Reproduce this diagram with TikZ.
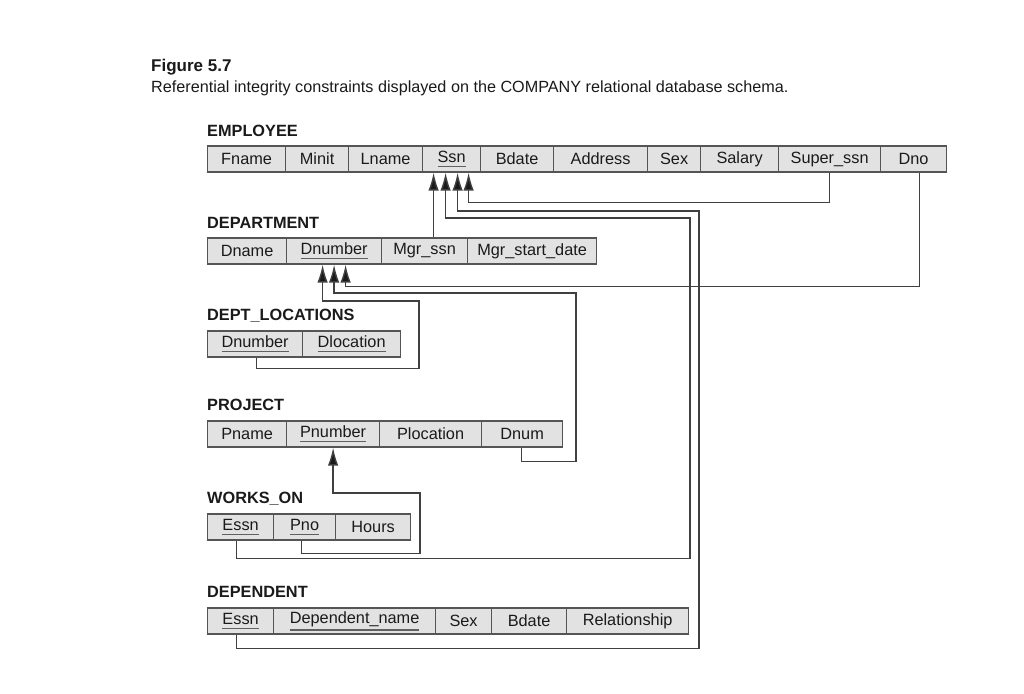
\documentclass[tikz,border=0pt]{standalone}
\usepackage{fontspec}
\setmainfont{Liberation Sans}
\usetikzlibrary{arrows.meta}
\definecolor{cellfill}{HTML}{E2E2E2}
\definecolor{celldraw}{HTML}{555555}
\definecolor{linec}{HTML}{404040}
\definecolor{txt}{HTML}{1A1A1A}
\definecolor{ulc}{HTML}{606060}
\newcommand\keyu[1]{\setbox0\hbox{#1}\vtop{\copy0\kern3pt{\color{ulc}\hrule width\wd0 height 1.3pt}}}
\begin{document}
\begin{tikzpicture}[x=1pt,y=-1pt,
  cell/.style={draw=celldraw,fill=cellfill,line width=1.2pt,minimum height=26pt,inner sep=0pt,anchor=west,text=txt,font=\fontsize{16.3}{19}\selectfont},
  reltitle/.style={anchor=base west,inner sep=0pt,text=txt,font=\fontsize{16.3}{19}\selectfont\bfseries},
  fk/.style={draw=linec,line width=1.4pt},
  arr/.style={fk,-{Latex[length=18pt,width=10.5pt,fill=txt]}}]
\useasboundingbox (0,0) rectangle (1024,693);
% heading
\node[anchor=base west,inner sep=0pt,text=txt,font=\fontsize{17}{20}\selectfont\bfseries] (fig) at (151,71) {Figure 5.7};
\node[anchor=base west,inner sep=0pt,text=txt,font=\fontsize{16.2}{19}\selectfont] (cap) at (151,92) {Referential integrity constraints displayed on the COMPANY relational database schema.};
% EMPLOYEE
\node[reltitle] (temp) at (207,136) {EMPLOYEE};
\node[cell,minimum width=78pt] (fname) at (207,159) {Fname};
\node[cell,minimum width=63pt] (minit) at (285,159) {Minit};
\node[cell,minimum width=74pt] (lname) at (348,159) {Lname};
\node[cell,minimum width=58pt] (ssn) at (422,159) {\keyu{Ssn}};
\node[cell,minimum width=73pt] (bdate) at (480,159) {Bdate};
\node[cell,minimum width=94pt] (address) at (553,159) {Address};
\node[cell,minimum width=53pt] (sex) at (647,159) {Sex};
\node[cell,minimum width=78pt] (salary) at (700,159) {Salary};
\node[cell,minimum width=102pt] (superssn) at (778,159) {Super\_ssn};
\node[cell,minimum width=66pt] (dno) at (880,159) {Dno};
% DEPARTMENT
\node[reltitle] (tdep) at (207,228) {DEPARTMENT};
\node[cell,minimum width=79pt] (dname) at (207,251) {Dname};
\node[cell,minimum width=95pt] (dnumber) at (286,251) {\keyu{Dnumber}};
\node[cell,minimum width=86pt] (mgrssn) at (381,251) {Mgr\_ssn};
\node[cell,minimum width=129pt] (mgrdate) at (467,251) {Mgr\_start\_date};
% DEPT_LOCATIONS
\node[reltitle] (tdl) at (207,320) {DEPT\_LOCATIONS};
\node[cell,minimum width=95pt] (dldnumber) at (207,344) {\keyu{Dnumber}};
\node[cell,minimum width=98pt] (dlloc) at (302,344) {\keyu{Dlocation}};
% PROJECT
\node[reltitle] (tproj) at (207,410) {PROJECT};
\node[cell,minimum width=79pt] (pname) at (207,434) {Pname};
\node[cell,minimum width=93pt] (pnumber) at (286,434) {\keyu{Pnumber}};
\node[cell,minimum width=102pt] (ploc) at (379,434) {Plocation};
\node[cell,minimum width=81pt] (dnum) at (481,434) {Dnum};
% WORKS_ON
\node[reltitle] (two) at (207,503) {WORKS\_ON};
\node[cell,minimum width=66pt] (woessn) at (207,527) {\keyu{Essn}};
\node[cell,minimum width=62pt] (pno) at (273,527) {\keyu{Pno}};
\node[cell,minimum width=75pt] (hours) at (335,527) {Hours};
% DEPENDENT
\node[reltitle] (tdpt) at (207,597) {DEPENDENT};
\node[cell,minimum width=66pt] (deessn) at (207,621) {\keyu{Essn}};
\node[cell,minimum width=162pt] (depname) at (273,621) {\keyu{Dependent\_name}};
\node[cell,minimum width=56pt] (dsex) at (435,621) {Sex};
\node[cell,minimum width=75pt] (dbdate) at (491,621) {Bdate};
\node[cell,minimum width=122pt] (drel) at (566,621) {Relationship};
% connectors to Ssn
\draw[arr] ([xshift=9pt]mgrssn.north) -- ([xshift=-18pt]ssn.south);
\draw[arr] ([xshift=-4pt]woessn.south) -- ++(0,18) -| (690,218) -| ([xshift=-6pt]ssn.south);
\draw[arr] ([xshift=-4pt]deessn.south) -- ++(0,14) -| (699,211) -| ([xshift=6pt]ssn.south);
\draw[arr] (superssn.south) -- ++(0,30) -| ([xshift=17pt]ssn.south);
% connectors to Dnumber
\draw[arr] ([xshift=6pt]dno.south) -- ++(0,114) -| ([xshift=11.5pt]dnumber.south);
\draw[arr] ([xshift=-0.5pt]dnum.south) -- ++(0,14) -| (576,293) -| (dnumber.south);
\draw[arr] ([xshift=1.5pt]dldnumber.south) -- ++(0,11) -| (419,301) -| ([xshift=-11.5pt]dnumber.south);
% connector to Pnumber
\draw[arr] ([xshift=-3pt]pno.south) -- ++(0,13) -| (420,493) -| (pnumber.south);
\end{tikzpicture}
\end{document}
